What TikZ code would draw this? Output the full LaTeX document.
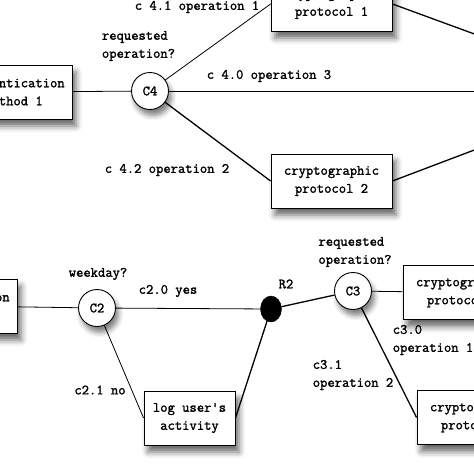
\documentclass[tikz,border=0pt]{standalone}
\usepackage{fontspec}
\newfontfamily\dgfam{Latin Modern Mono}[FakeBold=1.6]
\usetikzlibrary{shapes}
\usetikzlibrary{shadows.blur}

\newcommand{\dgfont}{\dgfam\fontsize{14.2}{18}\selectfont}

\begin{document}
\begin{tikzpicture}[x=1pt, y=-1pt,
  box/.style 2 args={rectangle, draw, line width=0.9pt, fill=white, minimum width=#1, minimum height=#2, align=center, font=\dgfont,
    blur shadow={shadow xshift=4pt, shadow yshift=-7pt, shadow blur radius=6pt, shadow opacity=60}},
  cond/.style={circle, draw, line width=0.9pt, fill=white, minimum size=37, inner sep=0pt, font=\dgfont,
    blur shadow={shadow xshift=3pt, shadow yshift=-6pt, shadow blur radius=5pt, shadow opacity=50}},
  label/.style={font=\dgfont, align=left, inner sep=0pt},
  link/.style={line width=0.8pt},
  heavy/.style={line width=1.3pt}]

  \useasboundingbox (0,0) rectangle (474,474);
  \clip (0,0) rectangle (474,474);

  %% top row
  \node[box={117}{54}] (auth1) at (13.5,92) {authentication\\method 1};
  \node[cond] (c4) at (150,91) {C4};
  \node[box={121}{54}] (prot1) at (331.5,4) {cryptographic\\protocol 1};
  \node[box={121}{54}] (prot2) at (331.5,181) {cryptographic\\protocol 2};
  \coordinate (r1) at (630,91);

  \draw[link] (auth1) -- (c4);
  \draw[link] (c4) -- (prot1.west);
  \draw[heavy] (c4) -- (prot2.west);
  \draw[link] (c4) -- (r1);
  \draw[heavy] (prot1.east) -- (r1);
  \draw[heavy] (prot2.east) -- (r1);

  %% bottom row
  \node[box={117}{54}] (auth2) at (-41.5,306) {authentication\\method 2};
  \node[cond] (c2) at (97,308) {C2};
  \node[box={91}{54}] (log) at (189.5,418) {log user's\\activity};
  \node[ellipse, fill=black, draw, minimum width=21, minimum height=26, inner sep=0pt] (r2) at (271,309) {};
  \node[cond] (c3) at (353,291) {C3};
  \node[box={121}{54}] (prot3) at (463.5,292.5) {cryptographic\\protocol 1};
  \node[box={121}{54}] (prot4) at (477.5,417.5) {cryptographic\\protocol 2};

  \draw[link] (auth2) -- (c2);
  \draw[link] (c2) -- (r2);
  \draw[link] (c2) -- (log.west);
  \draw[heavy] (log.east) -- (r2);
  \draw[heavy] (r2) -- (c3);
  \draw[link] (c3) -- (prot3);
  \draw[heavy] (c3) -- (prot4.west);

  %% labels
  \node[label] (lreq4) at (138.5,46) {requested\\operation?};
  \node[label] (l41) at (197,7) {c 4.1 operation 1};
  \node[label] (l40) at (269,76) {c 4.0 operation 3};
  \node[label] (l42) at (167,170) {c 4.2 operation 2};
  \node[label] (lweek) at (98,274) {weekday?};
  \node[label] (l20) at (168,291) {c2.0 yes};
  \node[label] (l21) at (100,390) {c2.1 no};
  \node[label] (lr2) at (286,284) {R2};
  \node[label] (lreq3) at (355,252) {requested\\operation?};
  \node[label] (l30) at (433,340) {c3.0\\operation 1};
  \node[label] (l31) at (353,375) {c3.1\\operation 2};

\end{tikzpicture}
\end{document}
